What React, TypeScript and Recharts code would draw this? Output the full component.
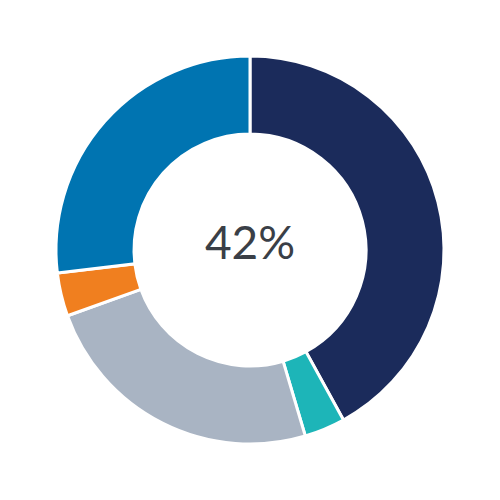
import React from "react";
import { PieChart, Pie, Cell } from "recharts";

// Slices clockwise from 12 o'clock
const segments = ["Navy", "Teal", "Gray", "Orange", "Blue"];
const shares = [42, 3.4, 24.1, 3.6, 26.9];
const colors = ["#1B2B5B", "#1DB5B8", "#A9B4C3", "#F07F1F", "#0074B1"];
const centerLabel = "42%";

const chartData = segments.map((name, i) => ({ name, value: shares[i] }));

const App: React.FC = () => {
  return (
    <div style={{ position: "absolute", left: 0, top: 0 }}>
      <PieChart
        width={500}
        height={500}
        margin={{ top: 0, right: 0, bottom: 0, left: 0 }}
      >
        <Pie
          data={chartData}
          dataKey="value"
          nameKey="name"
          cx={250}
          cy={250}
          innerRadius={116}
          outerRadius={194}
          startAngle={90}
          endAngle={-270}
          stroke="#ffffff"
          strokeWidth={3}
          isAnimationActive={false}
        >
          {chartData.map((d, i) => (
            <Cell key={d.name} fill={colors[i]} />
          ))}
        </Pie>
        <text
          x={250}
          y={247}
          textAnchor="middle"
          dominantBaseline="middle"
          fill="#3A3F47"
          fontFamily="Lato, 'Open Sans', sans-serif"
          fontSize={46}
        >
          {centerLabel}
        </text>
      </PieChart>
    </div>
  );
};

export default App;
